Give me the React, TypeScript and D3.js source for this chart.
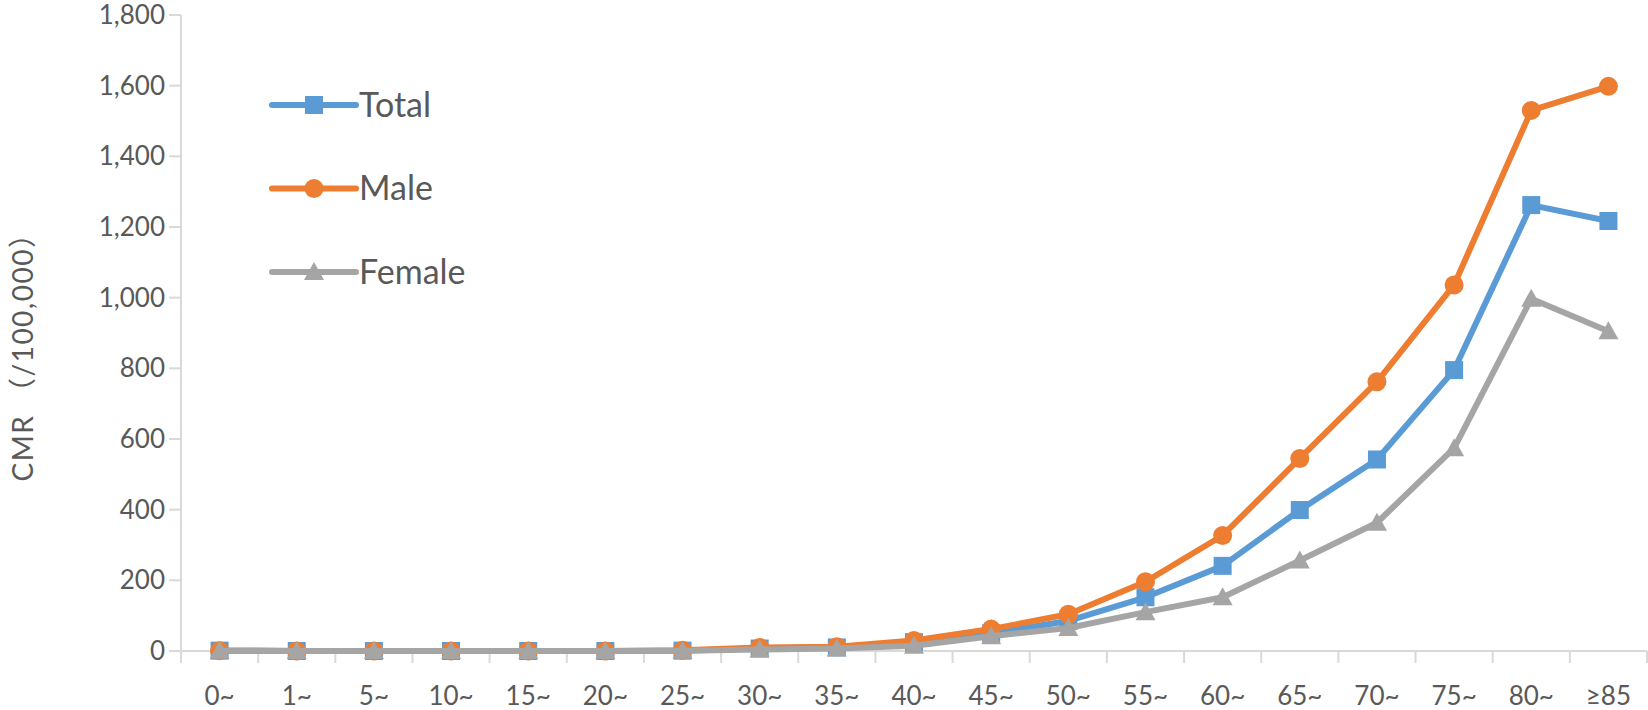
import React from 'react';
import * as d3 from 'd3';

const ageGroups = ['0~', '1~', '5~', '10~', '15~', '20~', '25~', '30~', '35~', '40~', '45~', '50~', '55~', '60~', '65~', '70~', '75~', '80~', '≥85'];
const totalValues = [1, 0, 0, 0, 0, 0, 1, 7, 10, 25, 50, 85, 152, 241, 399, 542, 795, 1262, 1217];
const maleValues = [1, 0, 0, 0, 0, 0, 2, 10, 12, 30, 62, 104, 196, 327, 545, 762, 1036, 1530, 1598];
const femaleValues = [1, 0, 0, 0, 0, 0, 1, 4, 7, 15, 42, 65, 110, 152, 256, 363, 574, 997, 905];
const yTicks = [0, 200, 400, 600, 800, 1000, 1200, 1400, 1600, 1800];

const seriesList = [
  { name: 'Total', values: totalValues, color: '#5B9BD5', marker: 'square' },
  { name: 'Male', values: maleValues, color: '#ED7D31', marker: 'circle' },
  { name: 'Female', values: femaleValues, color: '#A5A5A5', marker: 'triangle' },
];

const W = 1648;
const H = 710;
const FONT = 'Lato, "Open Sans", sans-serif';
const CJK = '"Noto Sans CJK SC", sans-serif';
const TEXT = '#595959';
const AXIS = '#D9D9D9';

function Marker({ type, x, y, color }: { type: string; x: number; y: number; color: string }) {
  if (type === 'square') return <rect x={x - 9} y={y - 9} width={18} height={18} fill={color} />;
  if (type === 'circle') return <circle cx={x} cy={y} r={9.5} fill={color} />;
  return <path d={`M${x},${y - 10}L${x + 10},${y + 8}L${x - 10},${y + 8}Z`} fill={color} />;
}

export default function App() {
  const margin = { left: 181, right: 1, top: 15, bottom: 59 };
  const x = d3.scaleBand<string>().domain(ageGroups).range([margin.left, W - margin.right]);
  const y = d3.scaleLinear().domain([0, 1800]).range([H - margin.bottom, margin.top]);
  const cx = (g: string) => (x(g) as number) + x.bandwidth() / 2;

  const line = d3.line<number>()
    .x((_, i) => cx(ageGroups[i]))
    .y(d => y(d));

  const y0 = y(0);

  return (
    <svg width={W} height={H} style={{ position: 'absolute', left: 0, top: 0, background: '#fff' }} fontFamily={FONT}>
      {/* y axis */}
      <line x1={margin.left} x2={margin.left} y1={y(1800)} y2={y0 + 12} stroke={AXIS} strokeWidth={2} />
      {yTicks.map(t => (
        <g key={t}>
          <line x1={margin.left - 12} x2={margin.left} y1={y(t)} y2={y(t)} stroke={AXIS} strokeWidth={2} />
          <text x={margin.left - 16} y={y(t)} dy="0.35em" textAnchor="end" fontSize={26} fill={TEXT}>
            {d3.format(',')(t)}
          </text>
        </g>
      ))}
      {/* x axis */}
      <line x1={margin.left - 12} x2={W - margin.right} y1={y0} y2={y0} stroke={AXIS} strokeWidth={2} />
      {ageGroups.map(g => (
        <line key={'t' + g} x1={(x(g) as number) + x.bandwidth()} x2={(x(g) as number) + x.bandwidth()} y1={y0} y2={y0 + 12} stroke={AXIS} strokeWidth={2} />
      ))}
      {ageGroups.map(g => (
        <text key={'l' + g} x={cx(g)} y={705} textAnchor="middle" fontSize={26} fill={TEXT}>{g}</text>
      ))}
      <text transform="translate(33,350) rotate(-90)" textAnchor="middle" fontSize={28} letterSpacing={1.5} fill={TEXT}>
        CMR <tspan fontFamily={CJK}>（</tspan>/100,000<tspan fontFamily={CJK}>）</tspan>
      </text>

      {seriesList.map(s => (
        <g key={s.name}>
          <path d={line(s.values) || ''} fill="none" stroke={s.color} strokeWidth={6} strokeLinejoin="round" strokeLinecap="round" />
          {s.values.map((v, i) => (
            <Marker key={i} type={s.marker} x={cx(ageGroups[i])} y={y(v)} color={s.color} />
          ))}
        </g>
      ))}

      {/* legend */}
      {seriesList.map((s, i) => {
        const ly = 105 + i * 83.5;
        return (
          <g key={'lg' + s.name}>
            <line x1={272} x2={356} y1={ly} y2={ly} stroke={s.color} strokeWidth={6} strokeLinecap="round" />
            <Marker type={s.marker} x={314} y={ly} color={s.color} />
            <text x={359} y={ly} dy="0.35em" fontSize={34} fill={TEXT}>{s.name}</text>
          </g>
        );
      })}
    </svg>
  );
}
